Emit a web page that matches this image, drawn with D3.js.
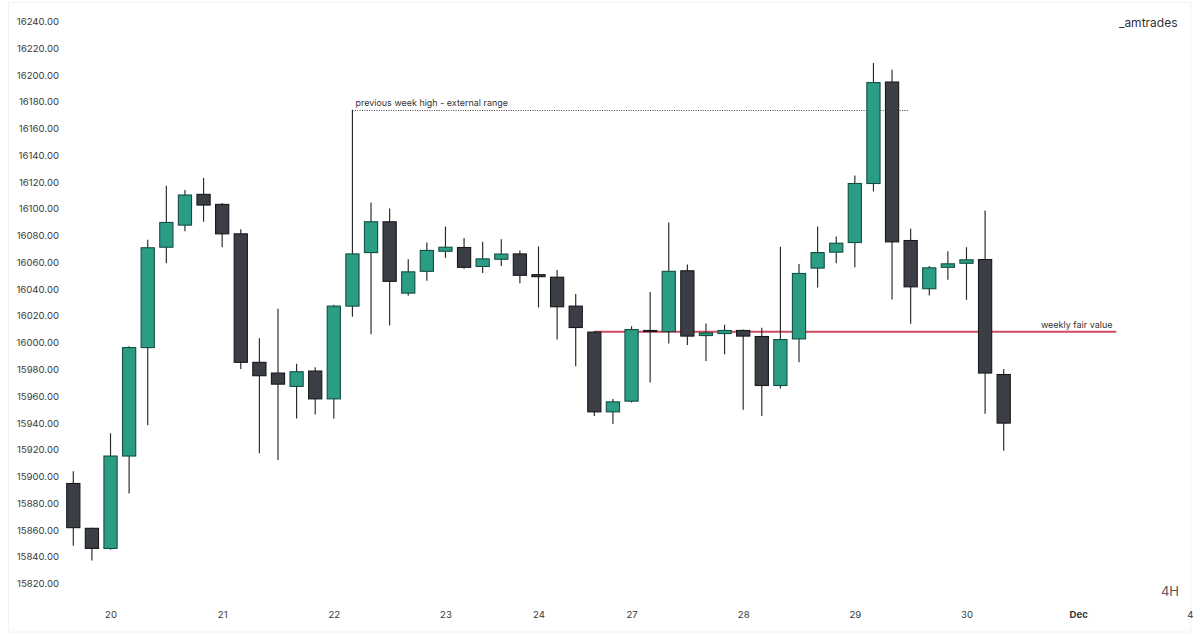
<!DOCTYPE html>
<html><head><meta charset="utf-8">
<script src="https://cdn.jsdelivr.net/npm/d3@7"></script>
<style>html,body{margin:0;padding:0;background:#fff;overflow:hidden}svg{display:block}text{font-family:Inter,"Noto Sans",sans-serif}</style>
</head><body><svg id="c" width="1200" height="636"></svg>
<script>
const opens=[15894.5,15861,15846,15915,15996,16071,16087.5,16110.5,16103,16081,15985,15977,15967,15978.5,15957.7,16027,16067,16090,16036.7,16053,16068,16070.8,16056.6,16062,16066,16050.5,16048.6,16027,16007.6,15948,15956,16008.8,16008,16053.4,16005,16006.5,16008.8,16004.3,15967.7,16002.5,16055.4,16067.3,16074.5,16118.6,16194.4,16076,16040,16056,16059,16061.8,15975.9];
const closes=[15861.5,15846,15915,15996,16070.6,16089.5,16110,16102.5,16081,15985,15975,15968.7,15978,15957.7,16027,16066,16090,16045.5,16052.6,16068.6,16071,16056,16062.3,16065.9,16050,16049,16026.5,16011,15948,15955.5,16009.5,16008,16053,16004.6,16007,16008.8,16004.6,15967.7,16002,16051.4,16067,16074,16118.6,16194,16075,16041.4,16055.6,16058.6,16061.6,15977,15939.6];
const highs=[15903.7,15861.5,15932,15997,16076.6,16117,16113.7,16122.7,16104,16084.5,16003,16025,15984,15981.4,16028,16173.7,16104.4,16100,16062,16074.5,16086.5,16077.8,16075,16077,16068.6,16071.6,16054,16036,16008.5,15957.7,16012,16037.5,16089.5,16058,16014,16013,16009.5,16010.8,16071.3,16058.5,16086.5,16079,16124.6,16208.6,16203.6,16084.8,16057,16068,16071,16098.5,15980];
const lows=[15848,15837,15845,15887,15938,16059,16083,16090,16071,15980,15917,15912,15943,15946,15943,16019,16006,16012.5,16034.7,16046,16063,16055,16051.7,16057,16044,16026,16002,15982,15945,15939,15955,15970,15999,15998,15986,15991,15949.5,15945,15965.4,15985,16041,16059,16056,16112.7,16032,16013.8,16035,16046.7,16031.7,15946.5,15919];
const yTicks=[15820,15840,15860,15880,15900,15920,15940,15960,15980,16000,16020,16040,16060,16080,16100,16120,16140,16160,16180,16200,16220,16240];
const xTickIndex=[2,8,14,20,25,30,36,42,48,54,60];
const xTickLabels=["20","21","22","23","24","27","28","29","30","Dec","4"];
const fairValue=16007.8, fairStart=28, fairEnd=56.05;
const prevHigh=16173.7, prevStart=15, prevEnd=44.9;

const svg=d3.select("#c");
const x=d3.scaleLinear().domain([0,50]).range([73.3,1003.7]);
const y=d3.scaleLinear().domain([15820,16240]).range([583.2,21]);
const GREEN="#2a9d84",DARK="#3b3e45",GREEN_S="#134f44",DARK_S="#17181b";

svg.append("rect").attr("x",8.5).attr("y",2.5).attr("width",1182.5).attr("height",629.5).attr("fill","#fff").attr("stroke","#f3f3f3");

const yAxis=d3.axisLeft(y).tickValues(yTicks).tickSize(0).tickPadding(0).tickFormat(d3.format(".2f"));
const gy=svg.append("g").attr("transform","translate(59,0)").call(yAxis);
gy.select(".domain").remove();
gy.selectAll("text").attr("font-size",9.6).attr("fill","#3a3a3a").style("font-family","Inter,sans-serif").attr("dy","0.36em");

const labelByIndex=new Map(xTickIndex.map((d,i)=>[d,xTickLabels[i]]));
const xAxis=d3.axisBottom(x).tickValues(xTickIndex).tickSize(0).tickPadding(0).tickFormat(d=>labelByIndex.get(d));
const gx=svg.append("g").attr("transform","translate(0,615)").call(xAxis);
gx.select(".domain").remove();
gx.selectAll("text").attr("font-size",9.6).attr("fill","#3a3a3a").attr("dy","0.3em").style("font-family","Inter,sans-serif").attr("font-weight",d=>d===54?700:400);

svg.append("line").attr("x1",x(fairStart)).attr("x2",x(fairEnd)).attr("y1",y(fairValue)).attr("y2",y(fairValue)).attr("stroke","#d04a60").attr("stroke-width",1.9);
svg.append("line").datum(prevHigh).attr("x1",x(prevStart)).attr("x2",x(prevEnd)).attr("y1",d=>Math.round(y(d))+0.5).attr("y2",d=>Math.round(y(d))+0.5).attr("stroke","#444").attr("stroke-width",1).attr("stroke-dasharray","1 1.4");

const idx=d3.range(opens.length);
const bodyW=13.2;
const g=svg.append("g");
g.selectAll("line.wick").data(idx).join("line").attr("class","wick")
 .attr("x1",i=>x(i)).attr("x2",i=>x(i)).attr("y1",i=>y(highs[i])).attr("y2",i=>y(lows[i]))
 .attr("stroke","#26272a").attr("stroke-width",1.15);
g.selectAll("rect.body").data(idx).join("rect").attr("class","body")
 .attr("x",i=>x(i)-bodyW/2).attr("width",bodyW)
 .attr("y",i=>y(Math.max(opens[i],closes[i])))
 .attr("height",i=>Math.abs(y(opens[i])-y(closes[i])))
 .attr("fill",i=>closes[i]>=opens[i]?GREEN:DARK)
 .attr("stroke",i=>closes[i]>=opens[i]?GREEN_S:DARK_S)
 .attr("stroke-width",1.1);

svg.append("text").attr("x",355.5).attr("y",106).attr("font-size",8.9).attr("fill","#333").attr("letter-spacing",0.04).text("previous week high - external range");
svg.append("text").attr("x",1112.5).attr("y",328).attr("text-anchor","end").attr("font-size",9).attr("fill","#333").text("weekly fair value");
svg.append("text").attr("x",1177.5).attr("y",26.5).attr("text-anchor","end").attr("font-size",12).attr("fill","#333").text("_amtrades");
svg.append("text").attr("x",1179).attr("y",596).attr("text-anchor","end").attr("font-size",13).attr("fill","#555").text("4H");
</script></body></html>
